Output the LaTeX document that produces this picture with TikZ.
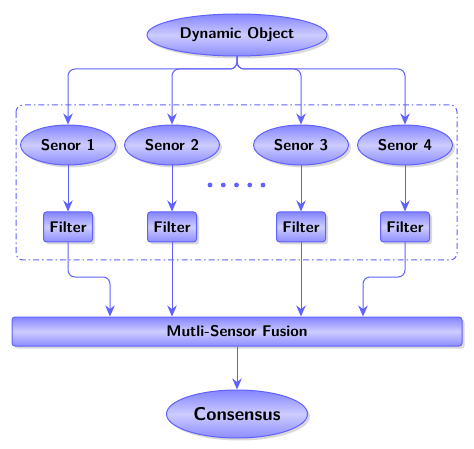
\documentclass[tikz,border=0pt]{standalone}
\usepackage{fontspec}
\usetikzlibrary{shapes.geometric,shadows,arrows.meta}
\begin{document}
\begin{tikzpicture}[x=1pt,y=-1pt,
  lc/.style={draw=blue!62, line width=1pt},
  shd/.style={top color=blue!48, bottom color=blue!45, middle color=blue!20,
     drop shadow={opacity=0.3, shadow xshift=2.5pt, shadow yshift=-2.5pt}},
  txt/.style={font=\sffamily\bfseries\fontsize{15.5}{18}\selectfont, text=black},
  ell/.style={ellipse, lc, shd, txt, inner sep=0pt, minimum width=95pt, minimum height=40pt},
  filt/.style={rectangle, rounded corners=3pt, lc, shd, txt, inner sep=0pt, minimum width=49pt, minimum height=30pt},
  arr/.style={draw=blue!62, line width=1pt, -{Stealth[length=11pt,width=9.5pt,inset=3.5pt]}, rounded corners=7pt}
]
\useasboundingbox (0,0) rectangle (474,449);

\draw[blue!62, line width=1pt, dash pattern=on 6pt off 3pt on 1.5pt off 3pt, rounded corners=7pt]
  (16,105) rectangle (457,260);

\node[ell, minimum width=180pt, minimum height=42pt] (do) at (237,35) {Dynamic Object};

\node[ell] (s1) at (68,145) {Senor 1};
\node[ell] (s2) at (172,145) {Senor 2};
\node[ell] (s3) at (301,145) {Senor 3};
\node[ell] (s4) at (405,145) {Senor 4};

\node[filt] (f1) at (68,227) {Filter};
\node[filt] (f2) at (172,227) {Filter};
\node[filt] (f3) at (301,227) {Filter};
\node[filt] (f4) at (405,227) {Filter};

\foreach \i in {0,...,4} \fill[blue!62] (210+\i*13.25,185) circle (2.4pt);

\node[rectangle, rounded corners=3pt, lc, shd, txt, inner sep=0pt, minimum width=450pt, minimum height=29pt] (fu) at (237,331.5) {Mutli-Sensor Fusion};

\node[ell, minimum width=141pt, minimum height=48pt, font=\sffamily\bfseries\fontsize{18.5}{21}\selectfont] (co) at (237,414) {Consensus};

\coordinate (b) at (237,69);
\foreach \s in {s1,s2,s3,s4} \draw[arr] (do.south) |- (b) -| (\s.north);

\draw[arr] (s1.south) -- (f1.north);
\draw[arr] (s2.south) -- (f2.north);
\draw[arr] (s3.south) -- (f3.north);
\draw[arr] (s4.south) -- (f4.north);

\coordinate (c1) at (110,277);
\coordinate (c4) at (363,277);
\draw[arr] (f1.south) |- (c1) -- (c1 |- fu.north);
\draw[arr] (f2.south) -- (f2.south |- fu.north);
\draw[arr] (f3.south) -- (f3.south |- fu.north);
\draw[arr] (f4.south) |- (c4) -- (c4 |- fu.north);

\draw[arr] (fu.south) -- (co.north);
\end{tikzpicture}
\end{document}
